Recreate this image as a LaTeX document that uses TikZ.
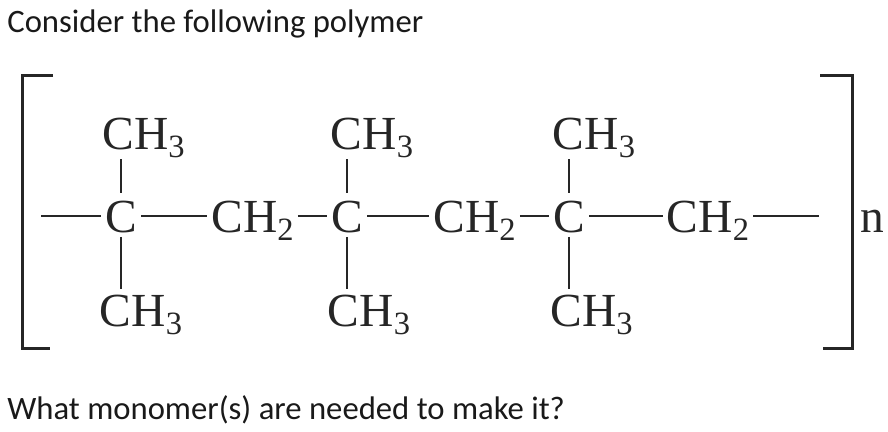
\documentclass[tikz,border=0pt]{standalone}
\usepackage{fontspec}
\setsansfont{Carlito}
\newfontfamily\chemfont{Liberation Serif}
\usetikzlibrary{calc}
\newcommand{\bondwidth}{0.04cm}
\newcommand{\bracketwidth}{0.06cm}
\newcommand{\inkcolor}{black!85}
\newcommand{\chemsize}{\chemfont\fontsize{27}{31}\selectfont}
\newcommand{\chemsub}[1]{\raisebox{-0.17cm}{\fontsize{18.5}{20}\selectfont #1}}
\tikzset{
chem/.style={anchor=base, inner sep=0.08cm, text=\inkcolor, font=\chemsize},
bond/.style={draw=\inkcolor, line width=\bondwidth},
upbond/.style={bond, shorten <=-0.06cm, shorten >=0.06cm},
downbond/.style={bond, shorten >=0.02cm},
bracket/.style={draw=\inkcolor, line width=\bracketwidth},
caption/.style={anchor=base west, inner sep=0pt, text=black!90, font=\sffamily\fontsize{18.6}{22}\selectfont}
}

\begin{document}
\begin{tikzpicture}
\useasboundingbox (0,0) rectangle (17.76,-8.62);
\node[caption] (question) at (0.14, -0.64) {Consider the following polymer};
\node[caption] (answer) at (0.14, -8.38) {What monomer(s) are needed to make it?};
%backbone
\node[chem] (c1) at (2.42, -4.64) {C};
\node[chem] (c2) at (6.94, -4.64) {C};
\node[chem] (c3) at (11.38, -4.64) {C};
\node[chem] (ch2a) at (5.05, -4.64) {CH\chemsub{2}};
\node[chem] (ch2b) at (9.49, -4.64) {CH\chemsub{2}};
\node[chem] (ch2c) at (14.16, -4.64) {CH\chemsub{2}};
\coordinate (leftend) at (0.82, -4.32);
\coordinate (rightend) at (16.38, -4.32);
%side groups
\node[chem] (top1) at (2.87, -2.98) {CH\chemsub{3}};
\node[chem] (top2) at (7.44, -2.98) {CH\chemsub{3}};
\node[chem] (top3) at (11.88, -2.98) {CH\chemsub{3}};
\node[chem] (bot1) at (2.82, -6.52) {CH\chemsub{3}};
\node[chem] (bot2) at (7.38, -6.52) {CH\chemsub{3}};
\node[chem] (bot3) at (11.83, -6.52) {CH\chemsub{3}};
\node[chem] (repeat) at (17.44, -4.64) {n};
%bonds
\draw[bond] (leftend) -- (leftend -| c1.west);
\draw[bond] (c1.east |- leftend) -- (leftend -| ch2a.west);
\draw[bond] (ch2a.east |- leftend) -- (leftend -| c2.west);
\draw[bond] (c2.east |- leftend) -- (leftend -| ch2b.west);
\draw[bond] (ch2b.east |- leftend) -- (leftend -| c3.west);
\draw[bond] (c3.east |- leftend) -- (leftend -| ch2c.west);
\draw[bond] (ch2c.east |- leftend) -- (rightend);
\draw[upbond] (c1 |- top1.south) -- (c1.north);
\draw[upbond] (c2 |- top2.south) -- (c2.north);
\draw[upbond] (c3 |- top3.south) -- (c3.north);
\draw[downbond] (c1.south) -- (c1 |- bot1.north);
\draw[downbond] (c2.south) -- (c2 |- bot2.north);
\draw[downbond] (c3.south) -- (c3 |- bot3.north);
%brackets
\coordinate (lt) at (1.06, -1.5);
\coordinate (lc) at (0.44, -1.5);
\coordinate (lb) at (0.44, -6.96);
\coordinate (le) at (1.0, -6.96);
\coordinate (rt) at (16.4, -1.5);
\coordinate (rc) at (17.04, -1.5);
\coordinate (rb) at (17.04, -6.96);
\coordinate (re) at (16.46, -6.96);
\draw[bracket] (lt) -- (lc) -- (lb) -- (le);
\draw[bracket] (rt) -- (rc) -- (rb) -- (re);
\end{tikzpicture}
\end{document}
